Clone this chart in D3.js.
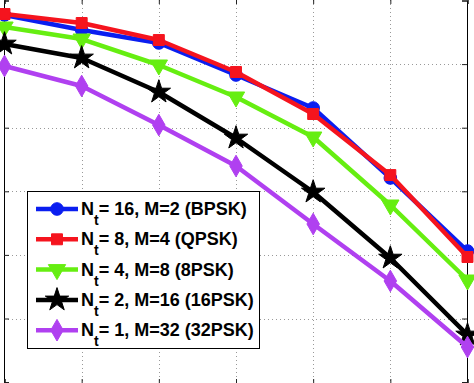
<!DOCTYPE html>
<html>
<head>
<meta charset="utf-8">
<script src="https://cdn.jsdelivr.net/npm/d3@7"></script>
<style>
html,body{margin:0;padding:0;background:#fff;}
svg{display:block;}
</style>
</head>
<body>
<svg id="chart" width="474" height="383"></svg>
<script>
// ---- data ----
const snr = [0, 2, 4, 6, 8, 10, 12];
const xTicks = [0, 2, 4, 6, 8, 10, 12];
const yTicks = [1, 1e-1, 1e-2, 1e-3, 1e-4, 1e-5, 1e-6];
const berNt16 = [0.591, 0.344, 0.215, 0.0674, 0.0204, 0.00162, 0.000115];
const berNt8  = [0.613, 0.443, 0.239, 0.0751, 0.0164, 0.00180, 0.0000927];
const berNt4  = [0.383, 0.248, 0.0968, 0.0304, 0.00714, 0.000609, 0.0000403];
const berNt2  = [0.207, 0.125, 0.0364, 0.00689, 0.000975, 0.0000893, 0.00000551];
const berNt1  = [0.0934, 0.0453, 0.0110, 0.00250, 0.000306, 0.0000389, 0.00000356];
const seriesNames = [
  {nt: "16", rest: "= 16, M=2 (BPSK)"},
  {nt: "8",  rest: "= 8, M=4 (QPSK)"},
  {nt: "4",  rest: "= 4, M=8 (8PSK)"},
  {nt: "2",  rest: "= 2, M=16 (16PSK)"},
  {nt: "1",  rest: "= 1, M=32 (32PSK)"}
];

const series = [
  {vals: berNt16, color: "#0a1ef0", sym: d3.symbolCircle, size: 125, rot: 0},
  {vals: berNt8,  color: "#f5141e", sym: d3.symbolSquare, size: 120, rot: 0},
  {vals: berNt4,  color: "#66ee11", sym: d3.symbolTriangle, size: 130, rot: 180},
  {vals: berNt2,  color: "#000000", sym: d3.symbolStar, size: 170, rot: 0},
  {vals: berNt1,  color: "#b040f0", sym: d3.symbolDiamond, size: 135, rot: 0}
];

const svg = d3.select("#chart");
const x = d3.scaleLinear().domain([0, 12]).range([4.5, 467.5]);
const y = d3.scaleLog().domain([1e-6, 1]).range([382.1, 0.5]);

// grid
const grid = svg.append("g");
grid.selectAll("line.vg").data(xTicks.slice(1, -1)).enter().append("line")
  .attr("x1", d => Math.round(x(d)) + 0.5).attr("x2", d => Math.round(x(d)) + 0.5)
  .attr("y1", 0).attr("y2", 383)
  .attr("stroke", "#999").attr("stroke-width", 1).attr("stroke-dasharray", "1,3");
grid.selectAll("line.hg").data(yTicks.slice(1, -1)).enter().append("line")
  .attr("y1", d => Math.round(y(d)) + 0.5).attr("y2", d => Math.round(y(d)) + 0.5)
  .attr("x1", 4).attr("x2", 468)
  .attr("stroke", "#999").attr("stroke-width", 1).attr("stroke-dasharray", "1,3");

// axes (box)
const axL = d3.axisRight(y).tickValues(yTicks).tickSize(5).tickFormat("");
const axR = d3.axisLeft(y).tickValues(yTicks).tickSize(5).tickFormat("");
const axT = d3.axisBottom(x).tickValues(xTicks).tickSize(5).tickFormat("");
const axB = d3.axisTop(x).tickValues(xTicks).tickSize(5).tickFormat("");
svg.append("g").attr("transform", "translate(4,0)").call(axL);
svg.append("g").attr("transform", "translate(467,0)").call(axR);
svg.append("g").attr("transform", "translate(0,-1)").call(axT);
svg.append("g").attr("transform", "translate(0,384)").call(axB);
svg.selectAll(".domain").attr("stroke", "#000");
svg.selectAll(".tick line").attr("stroke", "#222");

// lines and markers
const line = d3.line().x((d, i) => x(snr[i])).y(d => y(d));
series.forEach(s => {
  svg.append("path").datum(s.vals).attr("d", line)
    .attr("fill", "none").attr("stroke", s.color).attr("stroke-width", 4.5)
    .attr("stroke-linejoin", "round");
  svg.append("g").selectAll("path").data(s.vals).enter().append("path")
    .attr("d", d3.symbol().type(s.sym).size(s.size))
    .attr("transform", (d, i) => `translate(${x(snr[i])},${y(d)}) rotate(${s.rot})`)
    .attr("fill", s.color).attr("stroke", s.color).attr("stroke-width", 1);
});

// legend
const lg = svg.append("g");
lg.append("rect").attr("x", 27.5).attr("y", 191.5).attr("width", 232).attr("height", 157)
  .attr("fill", "#fff").attr("stroke", "#000").attr("stroke-width", 1);
series.forEach((s, i) => {
  const yy = 209 + i * 30.3;
  lg.append("line").attr("x1", 36).attr("x2", 78).attr("y1", yy).attr("y2", yy)
    .attr("stroke", s.color).attr("stroke-width", 4.5);
  lg.append("path").attr("d", d3.symbol().type(s.sym).size(s.size)())
    .attr("transform", `translate(57,${yy}) rotate(${s.rot})`)
    .attr("fill", s.color).attr("stroke", s.color);
  const t = lg.append("text").attr("x", 81).attr("y", yy + 6)
    .attr("font-family", "Liberation Sans, Arial, sans-serif")
    .attr("font-weight", "bold").attr("font-size", 18).attr("fill", "#000");
  t.append("tspan").text("N");
  t.append("tspan").attr("dy", 10).attr("font-size", 14).text("t");
  t.append("tspan").attr("dy", -10).text(seriesNames[i].rest);
});
</script>
</body>
</html>
